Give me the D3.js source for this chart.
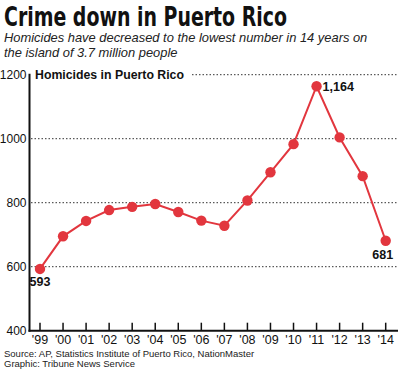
<!DOCTYPE html>
<html>
<head>
<meta charset="utf-8">
<script src="https://cdn.jsdelivr.net/npm/d3@7"></script>
<style>
  body { margin: 0; background: #fff; }
  svg { display: block; }
</style>
</head>
<body>
<div id="chart"></div>
<script>
// Homicides per year
const years = ["'99", "'00", "'01", "'02", "'03", "'04", "'05", "'06", "'07",
  "'08", "'09", "'10", "'11", "'12", "'13", "'14"];
const homicides = [593, 695, 743, 777, 787, 796, 771, 744, 728,
  807, 895, 983, 1164, 1004, 883, 681];
const yTicks = [400, 600, 800, 1000, 1200];
const labelled = { "'99": "593", "'11": "1,164", "'14": "681" };

const width = 400;
const height = 372;
const red = "#e2363e";
const font = "'Liberation Sans', Arial, sans-serif";

const svg = d3
  .select("#chart")
  .append("svg")
  .attr("width", width)
  .attr("height", height);

// Headline, squeezed to match the condensed face
svg
  .append("text")
  .attr("x", 4)
  .attr("y", 26)
  .attr("font-family", "'DejaVu Sans Condensed', 'Liberation Sans', sans-serif")
  .attr("font-weight", "bold")
  .attr("font-size", "27px")
  .attr("textLength", 283)
  .attr("lengthAdjust", "spacingAndGlyphs")
  .attr("fill", "#111")
  .text("Crime down in Puerto Rico");

const sub = [
  "Homicides have decreased to the lowest number in 14 years on",
  "the island of 3.7 million people",
];
svg
  .selectAll("text.sub")
  .data(sub)
  .enter()
  .append("text")
  .attr("class", "sub")
  .attr("x", 4)
  .attr("y", (d, i) => 42 + i * 15)
  .attr("font-family", font)
  .attr("font-style", "italic")
  .attr("font-size", "12.9px")
  .attr("fill", "#222")
  .text((d) => d);

// Scales
const x = d3.scalePoint().domain(years).range([40, 385.7]);
const y = d3.scaleLinear().domain([400, 1200]).range([330.7, 74.7]);

// Dotted gridlines
svg
  .selectAll("line.grid")
  .data(yTicks.filter((d) => d > 400))
  .enter()
  .append("line")
  .attr("class", "grid")
  .attr("x1", (d) => (d === 1200 ? 192 : 31))
  .attr("x2", 398)
  .attr("y1", (d) => y(d))
  .attr("y2", (d) => y(d))
  .attr("stroke", "#333")
  .attr("stroke-width", 1)
  .attr("stroke-dasharray", "1.5,2");

// Y tick labels
svg
  .selectAll("text.ytick")
  .data(yTicks)
  .enter()
  .append("text")
  .attr("class", "ytick")
  .attr("x", 26.5)
  .attr("y", (d) => y(d) + 4)
  .attr("text-anchor", "end")
  .attr("font-family", font)
  .attr("font-size", "12px")
  .attr("fill", "#111")
  .text((d) => d);

// Axis lines
svg
  .append("line")
  .attr("x1", 29.5)
  .attr("x2", 29.5)
  .attr("y1", y(1200) - 1)
  .attr("y2", y(400) + 1)
  .attr("stroke", "#111")
  .attr("stroke-width", 2);

svg
  .append("line")
  .attr("x1", 28.5)
  .attr("x2", 398)
  .attr("y1", y(400))
  .attr("y2", y(400))
  .attr("stroke", "#111")
  .attr("stroke-width", 2);

// X ticks and labels
svg
  .selectAll("line.xtick")
  .data(years)
  .enter()
  .append("line")
  .attr("class", "xtick")
  .attr("x1", (d) => x(d))
  .attr("x2", (d) => x(d))
  .attr("y1", y(400) - 8)
  .attr("y2", y(400))
  .attr("stroke", "#111")
  .attr("stroke-width", 1.5);

svg
  .selectAll("text.xtick")
  .data(years)
  .enter()
  .append("text")
  .attr("class", "xtick")
  .attr("x", (d) => x(d))
  .attr("y", 344)
  .attr("text-anchor", "middle")
  .attr("font-family", font)
  .attr("font-size", "12.5px")
  .attr("fill", "#111")
  .text((d) => d);

// Chart label
svg
  .append("text")
  .attr("x", 35)
  .attr("y", 79)
  .attr("font-family", font)
  .attr("font-weight", "bold")
  .attr("font-size", "12.3px")
  .attr("fill", "#111")
  .text("Homicides in Puerto Rico");

// Line + dots
const line = d3
  .line()
  .x((d, i) => x(years[i]))
  .y((d) => y(d));

svg
  .append("path")
  .datum(homicides)
  .attr("d", line)
  .attr("fill", "none")
  .attr("stroke", red)
  .attr("stroke-width", 2);

svg
  .selectAll("circle.pt")
  .data(homicides)
  .enter()
  .append("circle")
  .attr("class", "pt")
  .attr("cx", (d, i) => x(years[i]))
  .attr("cy", (d) => y(d))
  .attr("r", 5.2)
  .attr("fill", red);

// Value labels
const labelPos = {
  "'99": { dx: 0, dy: 17, anchor: "middle" },
  "'11": { dx: 6, dy: 5, anchor: "start" },
  "'14": { dx: -3, dy: 18, anchor: "middle" },
};
Object.keys(labelled).forEach((k) => {
  const i = years.indexOf(k);
  const p = labelPos[k];
  svg
    .append("text")
    .attr("x", x(k) + p.dx)
    .attr("y", y(homicides[i]) + p.dy)
    .attr("text-anchor", p.anchor)
    .attr("font-family", font)
    .attr("font-weight", "bold")
    .attr("font-size", "12.5px")
    .attr("fill", "#111")
    .text(labelled[k]);
});

// Source
const source = [
  "Source: AP, Statistics Institute of Puerto Rico, NationMaster",
  "Graphic: Tribune News Service",
];
svg
  .selectAll("text.src")
  .data(source)
  .enter()
  .append("text")
  .attr("class", "src")
  .attr("x", 4)
  .attr("y", (d, i) => 357 + i * 9.5)
  .attr("font-family", font)
  .attr("font-size", "9.5px")
  .attr("fill", "#222")
  .text((d) => d);
</script>
</body>
</html>
